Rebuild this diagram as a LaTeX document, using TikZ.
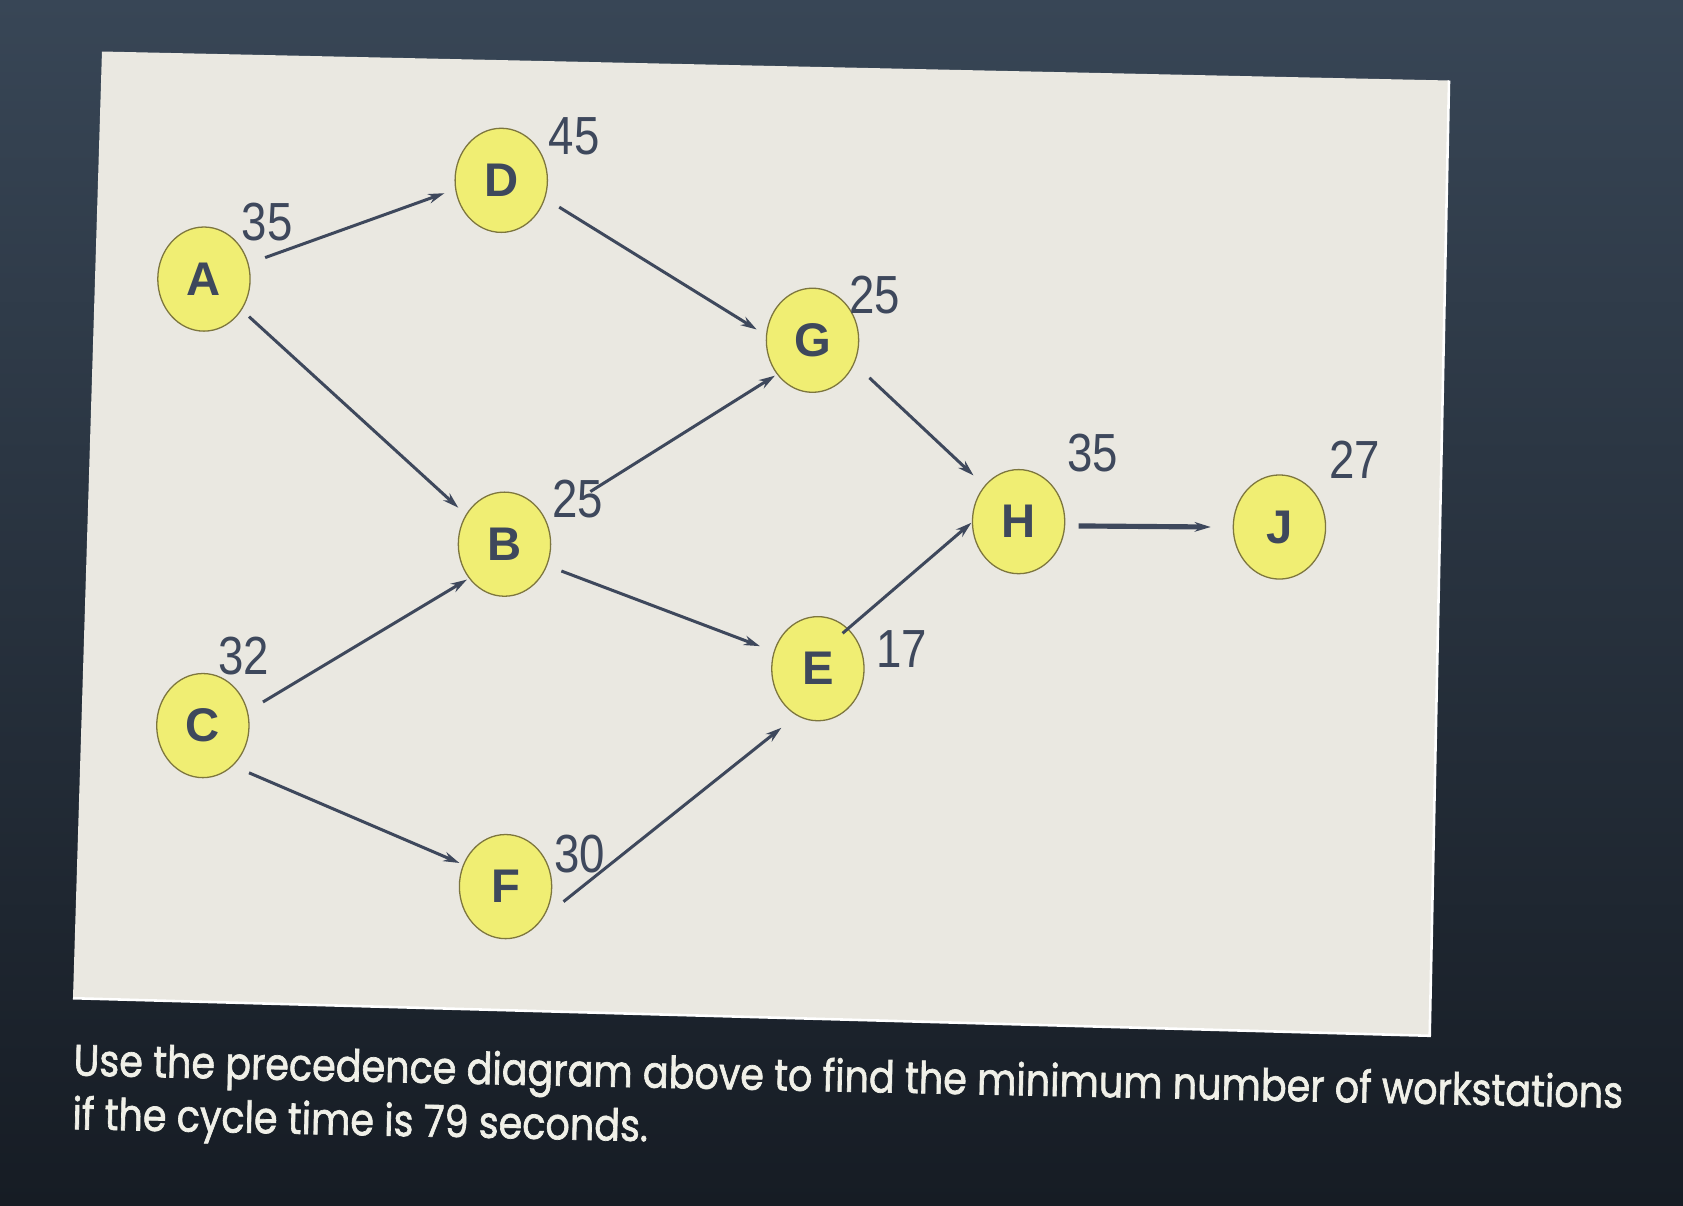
\documentclass[tikz,border=0pt]{standalone}
\usepackage{fontspec}
\setmainfont{Liberation Sans}
\newfontfamily\qfont{Poppins}[FakeBold=1.6]
\usetikzlibrary{calc,shapes.geometric,arrows.meta}
\definecolor{bgtop}{RGB}{56,70,86}
\definecolor{bgbot}{RGB}{22,28,36}
\definecolor{panel}{RGB}{234,232,225}
\definecolor{nodefill}{RGB}{240,238,115}
\definecolor{nodeedge}{RGB}{125,118,62}
\definecolor{ink}{RGB}{62,72,92}
\definecolor{qtext}{RGB}{240,240,232}
\newlength\qlen
\begin{document}
\settowidth\qlen{\qfont\fontsize{20.5}{25}\selectfont Use the precedence diagram above to find the minimum number of workstations}%
\pgfmathsetmacro\qsx{722pt/\qlen}%
\begin{tikzpicture}[x=0.5pt,y=-0.5pt,
 task/.style={ellipse, draw=nodeedge, line width=0.6pt, fill=nodefill,
   minimum width=43pt, minimum height=48.5pt, inner sep=0pt, text=ink,
   font=\bfseries\fontsize{22}{22}\selectfont},
 tlabel/.style={text=ink, font=\fontsize{25}{25}\selectfont, xscale=0.85, inner sep=0pt},
 arr/.style={draw=ink, line width=1.4pt, -{Stealth[length=7.5pt,width=4.5pt]}},
 qline/.style={anchor=base west, rotate=-1.2, text=qtext, inner sep=0pt,
   font=\qfont\fontsize{20.5}{25}\selectfont},
]
\useasboundingbox (0,0) rectangle (1568,1123);
\shade[top color=bgtop, bottom color=bgbot] (0,0) rectangle (1568,1123);
\fill[panel] (95,48) -- (1350,75) -- (1332,965) -- (68,930) -- cycle;
\draw[white, line width=1.2pt] (68,930) -- (1332,965) -- (1350,75);

\node[task] (A) at (190,260) {A};
\node[task] (D) at (467,168) {D};
\node[task] (G) at (757,317) {G};
\node[task] (B) at (470,507) {B};
\node[task] (C) at (189,676) {C};
\node[task] (E) at (762,623) {E};
\node[task] (F) at (471,826) {F};
\node[task] (H) at (949,486) {H};
\node[task] (J) at (1192,491) {J};

\node[tlabel] (lA) at (249,207) {35};
\node[tlabel] (lD) at (535,127) {45};
\node[tlabel] (lG) at (815,275) {25};
\node[tlabel] (lB) at (538,465) {25};
\node[tlabel] (lC) at (227,611) {32};
\node[tlabel] (lE) at (840,605) {17};
\node[tlabel] (lF) at (540,796) {30};
\node[tlabel] (lH) at (1018,422) {35};
\node[tlabel] (lJ) at (1262,428) {27};

\draw[arr] ($(A)+(57,-20)$) -- ($(D)+(-53,12)$);
\draw[arr] ($(A)+(42,35)$) -- ($(B)+(-43,-34)$);
\draw[arr] ($(D)+(54,25)$) -- ($(G)+(-52,-10)$);
\draw[arr] ($(B)+(80,-49)$) -- ($(G)+(-35,33)$);
\draw[arr] ($(B)+(53,25)$) -- ($(E)+(-54,-21)$);
\draw[arr] ($(C)+(56,-22)$) -- ($(B)+(-35,33)$);
\draw[arr] ($(C)+(43,44)$) -- ($(F)+(-43,-22)$);
\draw[arr] ($(F)+(54,14)$) -- ($(E)+(-34,55)$);
\draw[arr] ($(G)+(53,35)$) -- ($(H)+(-42,-43)$);
\draw[arr] ($(E)+(23,-33)$) -- ($(H)+(-44,1)$);
\draw[arr, line width=2.4pt] ($(H)+(56,4)$) -- ($(J)+(-64,0)$);

\node[qline, xscale=\qsx] (q) at (68,1002) {\begin{tabular}[t]{@{}l@{}}Use the precedence diagram above to find the minimum number of workstations\\if the cycle time is 79 seconds.\end{tabular}};
\end{tikzpicture}
\end{document}
